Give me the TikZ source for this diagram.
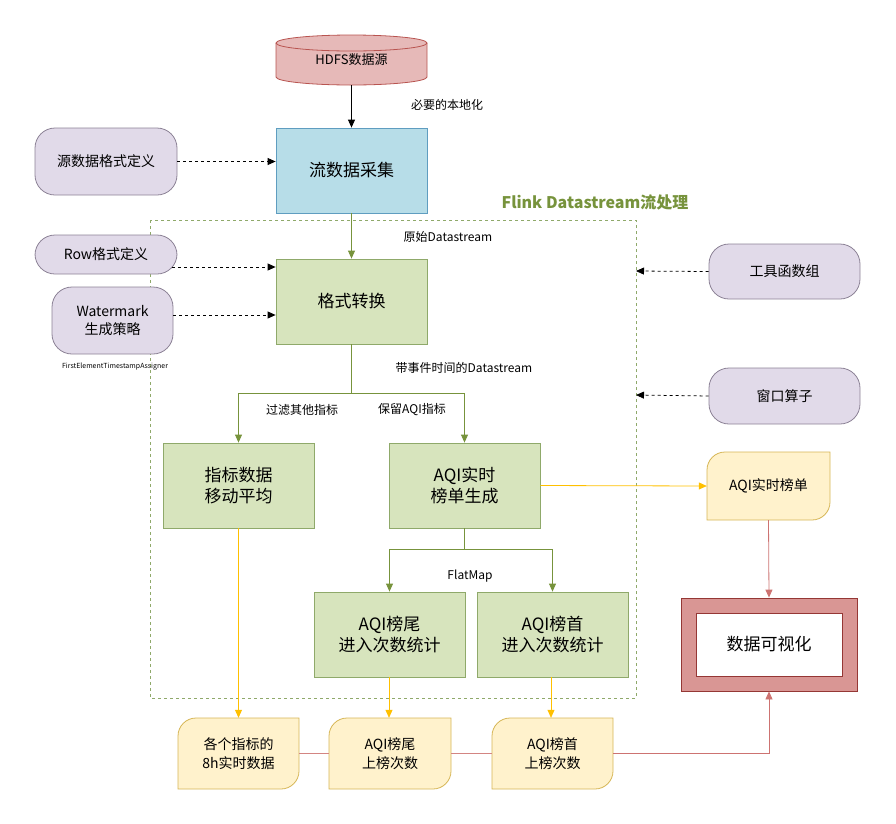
\documentclass[tikz,border=0pt]{standalone}
\usepackage{fontspec}
\setmainfont{Noto Sans CJK SC}
\usetikzlibrary{arrows.meta,calc}
\definecolor{lav}{HTML}{E1DAE9}\definecolor{lavb}{HTML}{8C8296}
\definecolor{grn}{HTML}{D7E4BD}\definecolor{grnb}{HTML}{8FA96A}
\definecolor{grnl}{HTML}{77933C}
\definecolor{blu}{HTML}{B7DDE8}\definecolor{blub}{HTML}{5F9DC0}
\definecolor{yel}{HTML}{FFF2CC}\definecolor{yelb}{HTML}{D6B656}\definecolor{yela}{HTML}{FFC000}
\definecolor{pnk}{HTML}{E6B9B8}\definecolor{pnkb}{HTML}{B85450}
\definecolor{vis}{HTML}{D99694}\definecolor{visb}{HTML}{953735}
\definecolor{redl}{HTML}{C0504D}
\tikzset{
 box/.style={draw=grnb,fill=grn,thick,font=\fontsize{17}{21}\selectfont,align=center,inner sep=0},
 lavn/.style={draw=lavb,fill=lav,thick,rounded corners=20pt,font=\fontsize{14}{18}\selectfont,align=center,inner sep=0},
 lbl/.style={font=\fontsize{12}{14}\selectfont,inner sep=1pt},
 dsh/.style={dashed,thick,-{Triangle[length=8pt,width=7pt]}},
 garr/.style={grnl,thick,-{Triangle[length=8pt,width=7pt]}},
 yarr/.style={yela,thick,-{Triangle[length=8pt,width=7pt]}},
 rarr/.style={redl!80,thick,-{Triangle[length=8pt,width=7pt]}},
 docn/.style={inner sep=0,font=\fontsize{14}{19}\selectfont,align=center},
}
\newcommand\docbox[6]{%
 \filldraw[draw=yelb,fill=yel,thick] (#2,-#5) -- (#2,-#3-18) arc[start angle=180,end angle=90,radius=18] -- (#4,-#3) -- (#4,-#5+18) arc[start angle=0,end angle=-90,radius=18] -- cycle;
 \node[docn,minimum width={#4-#2},minimum height={#5-#3}] (#1) at ({(#2+#4)/2},{-(#3+#5)/2}) {#6};}
\newcommand\rbox[7]{% style name x1 y1 x2 y2 text
 \node[#1,minimum width={#5-#3},minimum height={#6-#4}] (#2) at ({(#3+#5)/2},{-(#4+#6)/2}) {#7};}
\begin{document}
\begin{tikzpicture}[x=1pt,y=1pt]
\useasboundingbox (0,0) rectangle (896,-823);
% cylinder
\filldraw[draw=pnkb,fill=pnk,thick] (276,-43) -- (276,-77) arc[x radius=75.5,y radius=8,start angle=180,end angle=360] -- (427,-43) arc[x radius=75.5,y radius=8,start angle=0,end angle=180] -- cycle;
\draw[pnkb,thick] (276,-43) arc[x radius=75.5,y radius=8,start angle=180,end angle=360];
\node[inner sep=0,minimum width=151,minimum height=50,font=\fontsize{13}{16}\selectfont] (hdfs) at (351.5,-60) {\raisebox{-6pt}{HDFS数据源}};
\rbox{box,draw=blub,fill=blu}{collect}{276}{128}{427}{213}{流数据采集}
\draw[thick,-{Triangle[length=8pt,width=7pt]}] (hdfs.south) -- (collect.north);
\node[lbl] (l1) at (447,-105) {必要的本地化};
\rbox{lavn}{src}{35}{128}{177}{195}{源数据格式定义}
\draw[dsh] (src.east) -- (src.east -| collect.west);
% flink box
\draw[grnb,dashed,thick] (150,-220) rectangle (636,-698);
\node[font=\fontsize{16}{18}\selectfont\bfseries,text=grnl] (title) at (595,-202) {Flink Datastream流处理};
\rbox{box}{fmt}{276}{259}{427}{344}{格式转换}
\draw[garr] (collect.south) -- (fmt.north);
\node[lbl] (l2) at (448,-237) {原始Datastream};
\rbox{lavn}{row}{35}{235}{177}{274}{Row格式定义}
\coordinate (rowe) at (172,-267);
\draw[dsh] (rowe) -- (rowe -| fmt.west);
\rbox{lavn}{wm}{52}{287}{173}{354}{Watermark\\生成策略}
\draw[dsh] (wm.east |- 0,-315) -- (fmt.west |- 0,-315);
\node[font=\fontsize{7}{8}\selectfont] (fe) at (115,-367) {FirstElementTimestampAssigner};
\rbox{lavn}{tool}{709}{244}{860}{299}{工具函数组}
\rbox{lavn}{win}{709}{368}{860}{424}{窗口算子}
\coordinate (t1) at (636,-271); \coordinate (t2) at (636,-395);
\draw[dsh] (tool.west) -- (t1);
\draw[dsh] (win.west) -- (t2);
\rbox{box}{avg}{163}{443}{314}{528}{指标数据\\移动平均}
\rbox{box}{aqi}{389}{443}{540}{528}{AQI实时\\榜单生成}
\coordinate (sp) at (351.5,-393);
\draw[grnl,thick] (fmt.south) -- (sp);
\draw[garr] (sp) -| (avg.north);
\draw[garr] (sp) -| (aqi.north);
\node[lbl] (l3) at (464,-368) {带事件时间的Datastream};
\node[lbl] (l4) at (302,-410) {过滤其他指标};
\node[lbl] (l5) at (412,-410) {保留AQI指标};
\docbox{rt}{707}{452}{830}{520}{AQI实时榜单}
\draw[yarr] (aqi.east) -- (rt.west);
\rbox{box}{tail}{314}{592}{465}{677}{AQI榜尾\\进入次数统计}
\rbox{box}{head}{477}{592}{628}{677}{AQI榜首\\进入次数统计}
\coordinate (sp2) at (464.5,-549);
\draw[grnl,thick] (aqi.south) -- (sp2);
\draw[garr] (sp2) -| (tail.north);
\draw[garr] (sp2) -| (head.north);
\node[lbl] (l6) at (470,-576) {FlatMap};
\node[draw=visb,fill=vis,thick,minimum width=176,minimum height=93] (visout) at (769,-644.5) {};
\node[draw=visb,fill=white,thick,minimum width=146,minimum height=63,font=\fontsize{17}{21}\selectfont] (vis) at (769,-644.5) {数据可视化};
\draw[rarr] (rt.south) -- (visout.north);
\docbox{d1}{178}{718}{299}{789}{各个指标的\\8h实时数据}
\docbox{d2}{329}{718}{451}{789}{AQI榜尾\\上榜次数}
\docbox{d3}{492}{718}{613}{789}{AQI榜首\\上榜次数}
\draw[yarr] (avg.south) -- (d1.north -| avg.south);
\draw[yarr] (tail.south -| 389,0) -- (d2.north -| 389,0);
\draw[yarr] (head.south -| 551,0) -- (d3.north -| 551,0);
\draw[redl!70,thick] (d1.east) -- (d2.west);
\draw[redl!70,thick] (d2.east) -- (d3.west);
\draw[rarr] (d3.east) -| (visout.south);
\end{tikzpicture}
\end{document}
